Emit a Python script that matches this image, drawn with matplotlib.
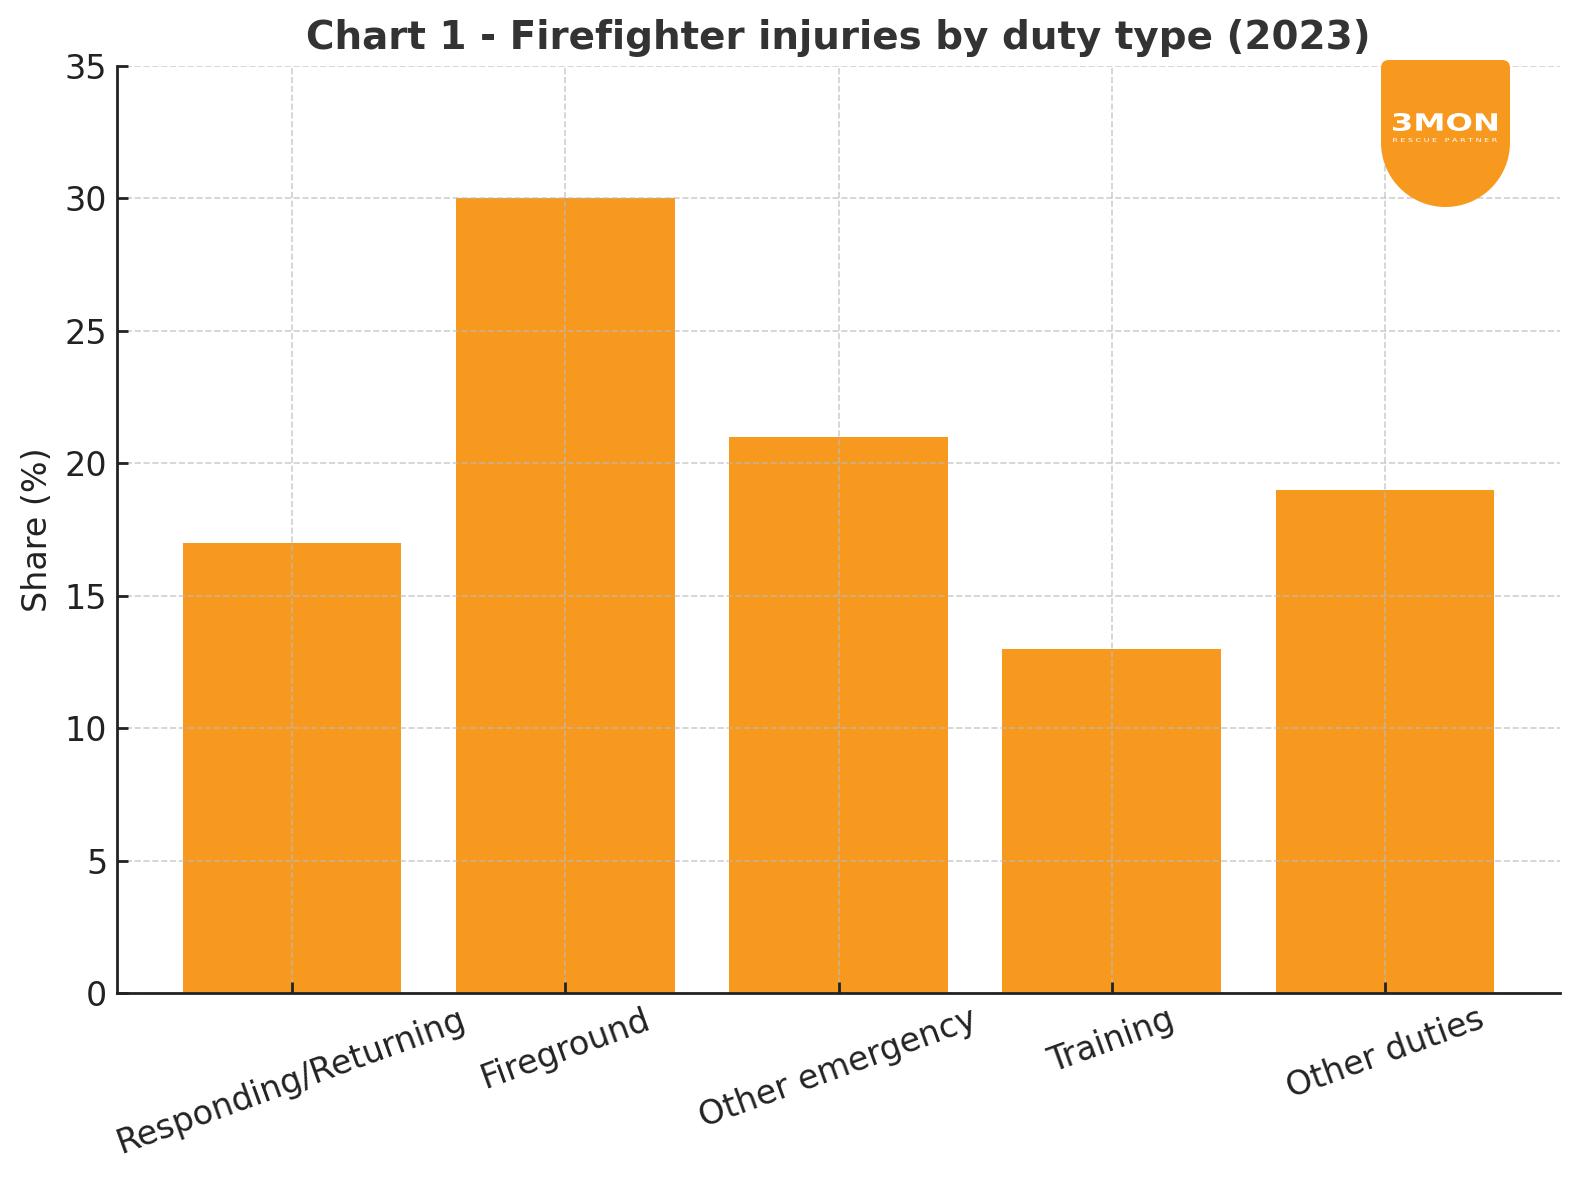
import numpy as np
import matplotlib.pyplot as plt
from matplotlib.path import Path
from matplotlib.patches import PathPatch
from matplotlib.textpath import TextPath
from matplotlib.font_manager import FontProperties
from matplotlib.transforms import Affine2D

# ===================== 数据 =====================
duty_types = ["Responding/Returning", "Fireground", "Other emergency", "Training", "Other duties"]
share_pct = [17, 30, 21, 13, 19]
y_ticks = [0, 5, 10, 15, 20, 25, 30, 35]

BAR_COLOR = "#F7981F"
TEXT_COLOR = "#222222"

plt.rcParams["font.family"] = ["DejaVu Sans"]

fig = plt.figure(figsize=(7.9, 5.895), dpi=200)
ax = fig.add_axes([117 / 1580, 1 - 993 / 1179, (1560 - 117) / 1580, (993 - 66) / 1179])

x_pos = np.arange(len(duty_types))
ax.bar(x_pos, share_pct, width=0.8, color=BAR_COLOR)

ax.set_ylim(0, 35)
ax.set_yticks(y_ticks)
ax.set_xticks(x_pos)
ax.set_xticklabels(duty_types, rotation=20, ha="center", fontsize=12, color=TEXT_COLOR)
ax.tick_params(axis="y", labelsize=12, labelcolor=TEXT_COLOR)
ax.tick_params(direction="in", length=4, width=1, color=TEXT_COLOR)
ax.set_ylabel("Share (%)", fontsize=12, color=TEXT_COLOR)
ax.set_title("Chart 1 - Firefighter injuries by duty type (2023)", fontsize=14,
             fontweight="bold", color="#333333", pad=6)
ax.grid(True, linestyle="--", color="#bbbbbb", alpha=0.7, linewidth=0.6)
for side in ["top", "right"]:
    ax.spines[side].set_visible(False)
for side in ["left", "bottom"]:
    ax.spines[side].set_color(TEXT_COLOR)
    ax.spines[side].set_linewidth(1.0)

# ===================== 标志 (3MON) =====================
lw, lh = 129, 147
logo = fig.add_axes([1381 / 1580, 1 - 207 / 1179, lw / 1580, lh / 1179])
logo.set_xlim(0, lw)
logo.set_ylim(0, lh)
logo.axis("off")
r = lw / 2
c = 8
t = np.linspace(0, np.pi, 60)
verts = [(0, lh - c), (0, r)]
verts += [(r - r * np.cos(a), r - r * np.sin(a)) for a in t]
verts += [(lw, lh - c), (lw, lh), (lw - c, lh), (c, lh), (0, lh), (0, lh - c)]
codes = [Path.MOVETO, Path.LINETO] + [Path.LINETO] * len(t) + \
        [Path.LINETO, Path.CURVE3, Path.CURVE3, Path.LINETO, Path.CURVE3, Path.CURVE3]
logo.add_patch(PathPatch(Path(verts, codes), facecolor=BAR_COLOR, edgecolor="none"))


def logo_text(s, x0, x1, y_top, height, weight):
    # 把文字路径缩放到给定的像素框里
    tp = TextPath((0, 0), s, size=1, prop=FontProperties(family="DejaVu Sans", weight=weight))
    ext = tp.get_extents()
    tr = Affine2D().translate(-ext.x0, -ext.y0).scale((x1 - x0) / ext.width, height / ext.height) \
        .translate(x0, y_top - height)
    logo.add_patch(PathPatch(tr.transform_path(tp), facecolor="white", edgecolor="none"))


logo_text("3MON", 12, 116, lh - 53, 18, "bold")
logo_text("R E S C U E   P A R T N E R", 12, 116, lh - 78, 4, "normal")

fig.savefig("out.png", dpi=200)
